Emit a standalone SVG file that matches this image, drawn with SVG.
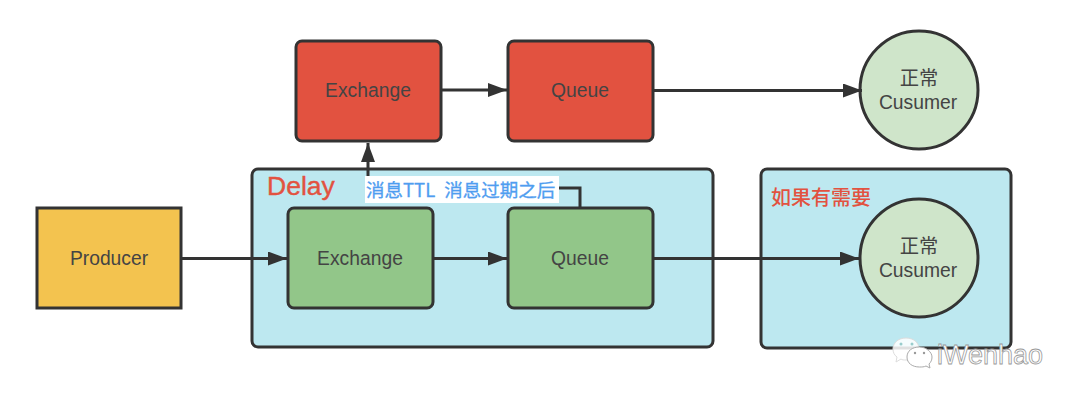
<svg xmlns="http://www.w3.org/2000/svg" width="1080" height="400" viewBox="0 0 1080 400">
<style>
.b{stroke:#333;stroke-width:3}
.t{font-family:"Liberation Sans","Noto Sans CJK SC",sans-serif;font-size:19.300px;fill:#444;text-anchor:middle}
.c{fill:none;stroke:#333;stroke-width:3}
.red{fill:#e25240}.green{fill:#92c689}.cir{fill:#cfe5ca}.cy{fill:#bde8f0}
</style>
<defs>
<marker id="a" markerUnits="userSpaceOnUse" markerWidth="20" markerHeight="14" refX="19" refY="7" orient="auto"><path d="M0 0L19 7L0 14Z" fill="#333"/></marker>
</defs>
<rect width="1080" height="400" fill="#fff"/>
<g id="delay"><rect class="b cy" x="252" y="169" width="461" height="178" rx="6"/><text x="267" y="195" stroke="#e25240" stroke-width=".4" style="font-family:'Liberation Sans',sans-serif;font-size:26.500px;fill:#e25240">Delay</text></g>
<g id="optional"><rect class="b cy" x="761" y="169" width="250" height="179" rx="6"/><text x="771" y="205" style="font-family:'Noto Sans CJK SC',sans-serif;font-size:20px;font-weight:500;fill:#e25240">如果有需要</text></g>
<g id="exchange-red"><rect class="b red" x="296" y="41" width="145" height="100" rx="6"/><text class="t" x="368" y="97">Exchange</text></g>
<g id="queue-red"><rect class="b red" x="508" y="41" width="145" height="100" rx="6"/><text class="t" x="580" y="97">Queue</text></g>
<g id="consumer-top"><circle class="b cir" cx="919" cy="90" r="59"/><text class="t" x="919" y="85">正常</text><text class="t" x="918" y="109">Cusumer</text></g>
<g id="producer"><rect x="37" y="208" width="144" height="100" fill="#f3c34f" class="b"/><text class="t" x="109" y="265">Producer</text></g>
<g id="exchange-green"><rect class="b green" x="288" y="208" width="145" height="100" rx="6"/><text class="t" x="360" y="265">Exchange</text></g>
<g id="queue-green"><rect class="b green" x="508" y="208" width="145" height="100" rx="6"/><text class="t" x="580" y="265">Queue</text></g>
<g id="consumer-bottom"><circle class="b cir" cx="919" cy="258" r="59"/><text class="t" x="919" y="253">正常</text><text class="t" x="918" y="277">Cusumer</text></g>
<g id="connectors">
<path class="c" d="M441 90H507" marker-end="url(#a)"/>
<path class="c" d="M653 90.500H862" marker-end="url(#a)"/>
<path class="c" d="M181 258.500H287" marker-end="url(#a)"/>
<path class="c" d="M433 258.500H507" marker-end="url(#a)"/>
<path class="c" d="M653 258.500H859" marker-end="url(#a)"/>
<path class="c" d="M580 207V188H540M368 180V143" marker-end="url(#a)"/>
</g>
<g id="label"><rect x="365" y="176" width="194" height="27" fill="#fff"/><text x="366" y="197" stroke="#4f9df0" stroke-width=".3" style="font-family:'Noto Sans CJK SC',sans-serif;font-size:18.500px;fill:#4f9df0;word-spacing:5px">消息TTL 消息过期之后</text></g>
<g id="watermark">
<path d="M906 338C914 338 919 343 919 349C919 355 913 360 906 360C904 360 902 360 901 359L896 362L897 357C894 355 893 352 893 349C893 343 898 338 906 338Z" fill="#fff" fill-opacity=".85" stroke="#ddd"/>
<circle cx="901" cy="344" r="1.500" fill="#9cc"/><circle cx="912" cy="344" r="1.500" fill="#9cc"/>
<path d="M919.500 347C926 347 932 352 932 357C932 360 931 362 929 364L930 368L926 366C924 367 922 367 919.500 367C912 367 907 363 907 357C907 351 912 347 919.500 347Z" fill="#fff" stroke="#aaa"/>
<circle cx="915" cy="353" r="1.200" fill="#999"/><circle cx="924" cy="353" r="1.200" fill="#999"/>
<text x="937" y="364" style="font-family:'Liberation Sans',sans-serif;font-size:27px;fill:#fff;stroke:#999;stroke-width:.8">iWenhao</text>
</g>
</svg>
